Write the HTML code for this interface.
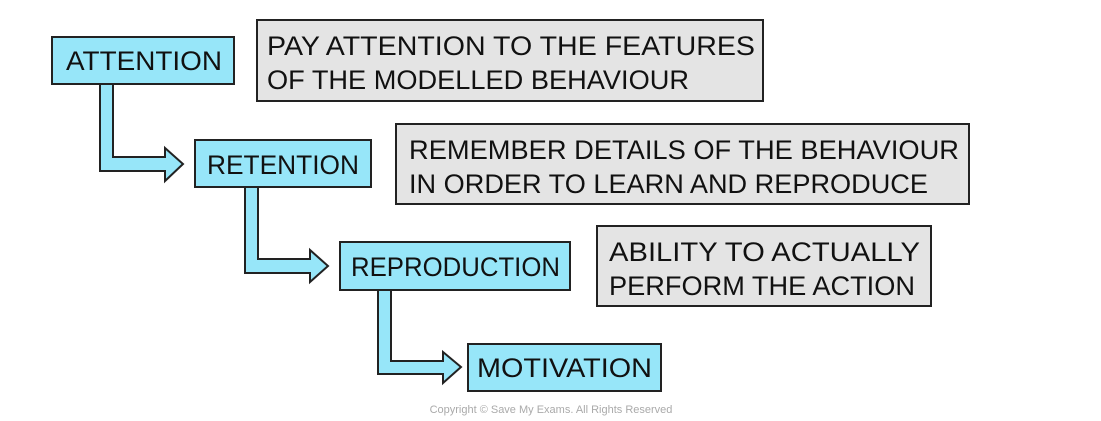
<!DOCTYPE html>
<html><head><meta charset="utf-8"><style>
html,body{margin:0;padding:0;background:#fff;}
svg{display:block;}
text{font-family:"Liberation Sans",sans-serif;fill:#111;}
</style></head><body>
<svg width="1101" height="421" viewBox="0 0 1101 421" xmlns="http://www.w3.org/2000/svg">
<g stroke="#222" stroke-width="2">
<rect x="257" y="20" width="506" height="81" fill="#e4e4e4"/>
<rect x="396" y="124" width="573" height="80" fill="#e4e4e4"/>
<rect x="597" y="226" width="334" height="80" fill="#e4e4e4"/>
<path d="M100 84 V171 H165 V181 L183 164 L165 148 V157 H113 V84 Z" fill="#97e6f9"/>
<path d="M245 187 V273 H310 V282 L328 266 L310 250 V259 H258 V187 Z" fill="#97e6f9"/>
<path d="M378 290 V374 H443 V383 L461 367 L443 352 V361 H391 V290 Z" fill="#97e6f9"/>
<rect x="52" y="37" width="182" height="47" fill="#97e6f9"/>
<rect x="195" y="140" width="176" height="47" fill="#97e6f9"/>
<rect x="340" y="242" width="230" height="48" fill="#97e6f9"/>
<rect x="468" y="344" width="193" height="47" fill="#97e6f9"/>
</g>
<g font-size="27">
<text x="66" y="70" textLength="156" lengthAdjust="spacingAndGlyphs">ATTENTION</text>
<text x="207" y="174" textLength="152" lengthAdjust="spacingAndGlyphs">RETENTION</text>
<text x="351" y="276" textLength="209" lengthAdjust="spacingAndGlyphs">REPRODUCTION</text>
<text x="477" y="377" textLength="175" lengthAdjust="spacingAndGlyphs">MOTIVATION</text>
<text x="267" y="55" textLength="488" lengthAdjust="spacingAndGlyphs">PAY ATTENTION TO THE FEATURES</text>
<text x="267" y="89" textLength="422" lengthAdjust="spacingAndGlyphs">OF THE MODELLED BEHAVIOUR</text>
<text x="409" y="159" textLength="550" lengthAdjust="spacingAndGlyphs">REMEMBER DETAILS OF THE BEHAVIOUR</text>
<text x="409" y="193" textLength="519" lengthAdjust="spacingAndGlyphs">IN ORDER TO LEARN AND REPRODUCE</text>
<text x="609" y="261" textLength="311" lengthAdjust="spacingAndGlyphs">ABILITY TO ACTUALLY</text>
<text x="609" y="295" textLength="306" lengthAdjust="spacingAndGlyphs">PERFORM THE ACTION</text>
</g>
<text x="551" y="413" font-size="11" text-anchor="middle" style="fill:#aaa">Copyright © Save My Exams. All Rights Reserved</text>
</svg>
</body></html>
